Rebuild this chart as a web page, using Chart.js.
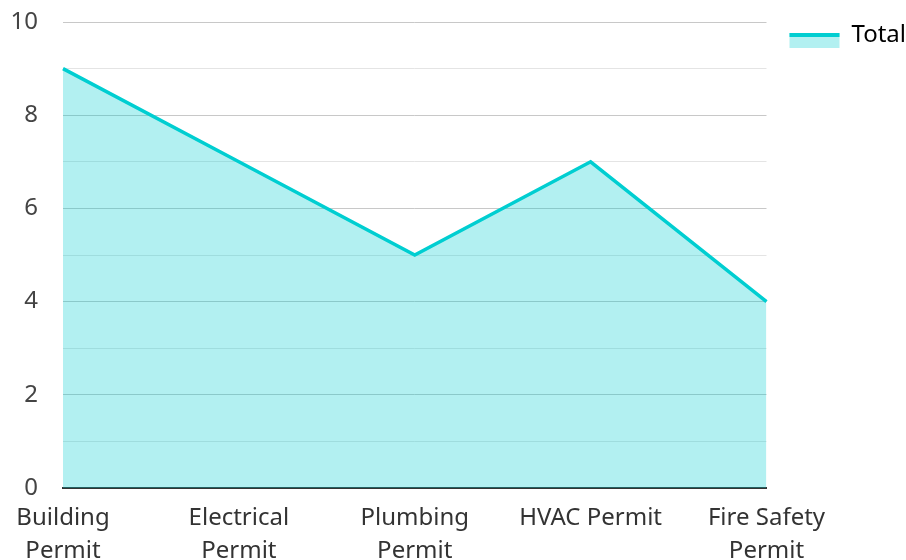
<!DOCTYPE html>
<html>
<head>
<meta charset="utf-8">
<script src="https://cdn.jsdelivr.net/npm/chart.js@4"></script>
<style>
  html, body { margin: 0; padding: 0; background: #fff; overflow: hidden; }
  #wrap { position: relative; width: 906px; height: 560px; }
</style>
</head>
<body>
<div id="wrap"><canvas id="chart"></canvas></div>
<script>
// Chart data
const categories = [
  ["Building", "Permit"],
  ["Electrical", "Permit"],
  ["Plumbing", "Permit"],
  "HVAC Permit",
  ["Fire Safety", "Permit"],
];
const totals = [9, 7, 5, 7, 4];
const seriesName = "Total";
const yTicks = [0, 2, 4, 6, 8, 10];

const LINE = "#00CED1";
const FILL = "rgba(0, 206, 209, 0.3)";
const FONT = "'Noto Sans', 'Open Sans', sans-serif";

// Legend swatch: filled box with a thick line along its top edge,
// sitting a little below the label's centre line.
const legendSwatch = {
  id: "legendSwatch",
  afterDraw(chart) {
    const legend = chart.legend;
    if (!legend || !legend.legendHitBoxes || !legend.legendHitBoxes.length) {
      return;
    }
    const hb = legend.legendHitBoxes[0];
    const w = legend.options.labels.boxWidth;
    const top = hb.top + hb.height / 2 - 2;
    const ctx = chart.ctx;
    ctx.save();
    ctx.fillStyle = FILL;
    ctx.fillRect(hb.left, top, w, 15);
    ctx.strokeStyle = LINE;
    ctx.lineWidth = 4;
    ctx.beginPath();
    ctx.moveTo(hb.left, top + 2);
    ctx.lineTo(hb.left + w, top + 2);
    ctx.stroke();
    ctx.restore();
  },
};

new Chart(document.getElementById("chart").getContext("2d"), {
  type: "line",
  data: {
    labels: categories,
    datasets: [{
      label: seriesName,
      data: totals,
      borderColor: LINE,
      backgroundColor: FILL,
      borderWidth: 3.5,
      fill: "origin",
      tension: 0,
      pointRadius: 0,
      pointHoverRadius: 0,
    }],
  },
  options: {
    responsive: true,
    maintainAspectRatio: false,
    animation: false,
    layout: { padding: { top: 0, left: 10, right: -10, bottom: 0 } },
    plugins: {
      legend: {
        position: "right",
        align: "start",
        labels: {
          boxWidth: 50,
          boxHeight: 15,
          padding: 23,
          color: "#333",
          font: { family: FONT, size: 24 },
          generateLabels: () => [{
            text: seriesName,
            fillStyle: "rgba(0,0,0,0)",
            strokeStyle: "rgba(0,0,0,0)",
            lineWidth: 0,
            datasetIndex: 0,
          }],
        },
      },
      tooltip: { enabled: false },
    },
    scales: {
      x: {
        offset: false,
        grid: { display: false, drawTicks: false },
        border: { display: true, color: "#333", width: 2 },
        ticks: {
          padding: 14,
          maxRotation: 0,
          autoSkip: false,
          color: "#333",
          font: { family: FONT, size: 24, lineHeight: 1.36 },
        },
        // labels may run off the canvas bottom, as in the source chart
        afterFit: (scale) => {
          scale.height = 72;
          scale.paddingLeft = 0;
          scale.paddingRight = 0;
        },
      },
      y: {
        min: 0,
        max: 10,
        grid: {
          drawTicks: false,
          color: (c) => (yTicks.includes(c.tick.value) ? "#c8c8c8" : "#e4e4e4"),
        },
        border: { display: false },
        ticks: {
          stepSize: 1,
          padding: 25,
          color: "#444",
          font: { family: FONT, size: 24 },
          callback: (v) => (yTicks.includes(v) ? String(v) : ""),
        },
        afterFit: (scale) => {
          scale.width = 53;
          scale.paddingTop = 22;
          scale.paddingBottom = 0;
        },
      },
    },
  },
  plugins: [legendSwatch],
});
</script>
</body>
</html>
